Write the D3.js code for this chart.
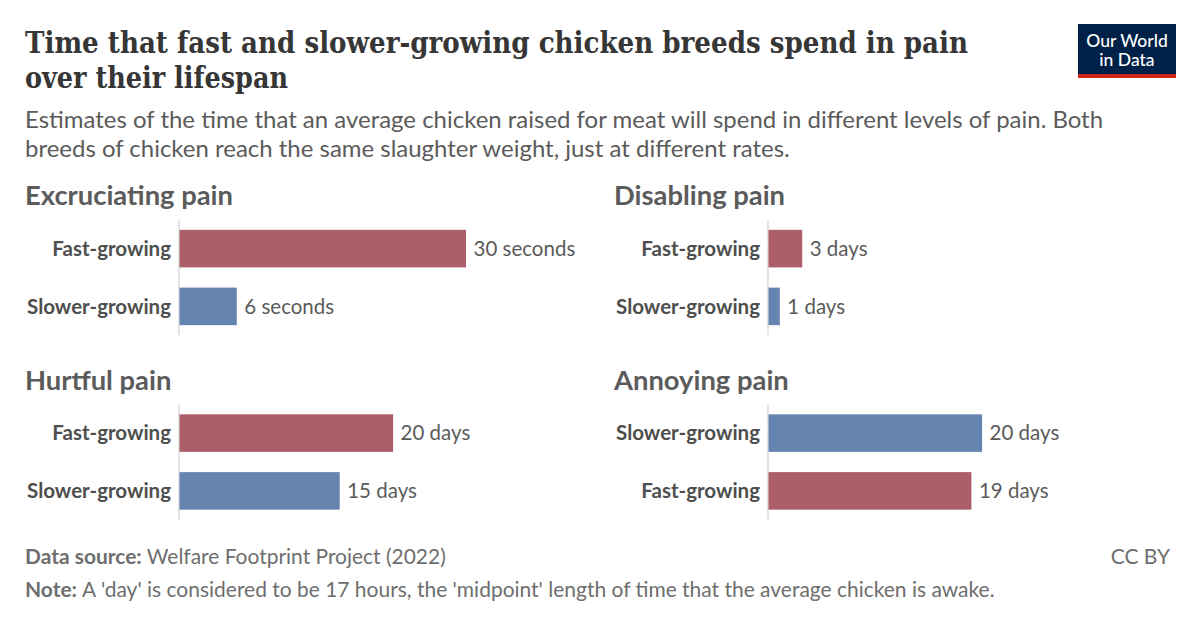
<!DOCTYPE html>
<html><head><meta charset="utf-8">
<script src="https://cdn.jsdelivr.net/npm/d3@7"></script>
<style>
body{margin:0;background:#fff;}
svg{display:block;}
</style></head>
<body>
<svg id="chart" width="1200" height="627"></svg>
<script>
// ---- Data ----
const panelTitles = ["Excruciating pain", "Disabling pain", "Hurtful pain", "Annoying pain"];
const panelUnits = ["seconds", "days", "days", "days"];
const breeds = ["Fast-growing", "Slower-growing"];
const fastValues = [30, 3.16, 20, 19];
const slowerValues = [6, 1.06, 15, 20];
const unitMax = { seconds: 30, days: 20 };

const W = 1200, H = 627;
const svg = d3.select("#chart");
const FONT = "Lato, 'Noto Sans', sans-serif";
const colors = { "Fast-growing": "#ac5f69", "Slower-growing": "#6585b0" };

// Fit a text element to a target width by adjusting font size
function fitWidth(sel, target) {
  const node = sel.node();
  const w = node.getComputedTextLength();
  const fs = parseFloat(sel.attr("font-size"));
  if (w > 0) sel.attr("font-size", fs * target / w);
  return parseFloat(sel.attr("font-size"));
}

// Title
const titleLines = ["Time that fast and slower-growing chicken breeds spend in pain", "over their lifespan"];
const titleWidths = [943, 263];
titleLines.forEach((t, i) => {
  svg.append("text").attr("x", 25).attr("y", 53 + i * 35)
    .attr("font-family", "'DejaVu Serif', 'Liberation Serif', serif").attr("font-weight", 700)
    .attr("font-size", 29.5).attr("fill", "#363636")
    .attr("textLength", titleWidths[i]).attr("lengthAdjust", "spacingAndGlyphs")
    .text(t);
});

// Subtitle
const subLines = ["Estimates of the time that an average chicken raised for meat will spend in different levels of pain. Both",
  "breeds of chicken reach the same slaughter weight, just at different rates."];
let subSize = 20;
subLines.forEach((t, i) => {
  const s = svg.append("text").attr("x", 25).attr("y", 128 + i * 29)
    .attr("font-family", FONT).attr("font-size", subSize).attr("fill", "#5b5b5b").text(t);
  if (i === 0) subSize = fitWidth(s, 1079);
});

// Logo
const logo = svg.append("g");
logo.append("rect").attr("x", 1078).attr("y", 24).attr("width", 98).attr("height", 50).attr("fill", "#002147");
logo.append("rect").attr("x", 1078).attr("y", 74).attr("width", 98).attr("height", 4).attr("fill", "#ce261e");
["Our World", "in Data"].forEach((t, i) => {
  logo.append("text").attr("x", 1127).attr("y", 47 + i * 19).attr("text-anchor", "middle")
    .attr("font-family", FONT).attr("font-weight", 500).attr("font-size", 17.5).attr("fill", "#fff").text(t);
});

// Scales per unit
const xScales = {
  seconds: d3.scaleLinear().domain([0, unitMax.seconds]).range([0, 286.5]),
  days: d3.scaleLinear().domain([0, unitMax.days]).range([0, 213.6])
};

const colX = [179, 768];
const rowY = [0, 184.5];
let panelTitleSize = 26;

panelTitles.forEach((title, p) => {
  const col = p % 2, row = Math.floor(p / 2);
  const ax = colX[col], oy = rowY[row];
  const unit = panelUnits[p];
  const x = xScales[unit];
  const rows = breeds.map(b => ({ breed: b, value: b === "Fast-growing" ? fastValues[p] : slowerValues[p] }))
    .sort((a, b) => b.value - a.value);
  const y = d3.scaleBand().domain(rows.map(d => d.breed)).range([220 + oy, 335 + oy])
    .paddingInner(0.35).paddingOuter(0.17);
  const g = svg.append("g");
  const pt = g.append("text").attr("x", col === 0 ? 25 : 614).attr("y", 205 + oy)
    .attr("font-family", FONT).attr("font-weight", 700).attr("font-size", panelTitleSize).attr("fill", "#5b5b5b").text(title);
  if (p === 0) panelTitleSize = fitWidth(pt, 208);
  g.append("line").attr("x1", ax).attr("x2", ax).attr("y1", 220 + oy).attr("y2", 335 + oy)
    .attr("stroke", "#c8c8c8").attr("stroke-width", 1);
  g.selectAll("rect.bar").data(rows).join("rect").attr("class", "bar")
    .attr("x", ax + 0.5).attr("y", d => y(d.breed)).attr("width", d => x(d.value))
    .attr("height", y.bandwidth()).attr("fill", d => colors[d.breed]);
  g.selectAll("text.cat").data(rows).join("text").attr("class", "cat")
    .attr("x", ax - 8).attr("y", d => y(d.breed) + y.bandwidth() / 2).attr("dy", "0.35em")
    .attr("text-anchor", "end").attr("font-family", FONT).attr("font-weight", 700).attr("font-size", 20.5)
    .attr("fill", "#4e4e4e").text(d => d.breed);
  g.selectAll("text.val").data(rows).join("text").attr("class", "val")
    .attr("x", d => ax + x(d.value) + 8).attr("y", d => y(d.breed) + y.bandwidth() / 2).attr("dy", "0.35em")
    .attr("font-family", FONT).attr("font-size", 20.5).attr("fill", "#5b5b5b")
    .text(d => Math.round(d.value) + " " + unit);
});

// Footer
const f1 = svg.append("text").attr("x", 25).attr("y", 564).attr("font-family", FONT).attr("font-size", 17).attr("fill", "#6e6e6e");
f1.append("tspan").attr("font-weight", 700).text("Data source: ");
f1.append("tspan").text("Welfare Footprint Project (2022)");
fitWidth(f1, 421);
svg.append("text").attr("x", 1170).attr("y", 564).attr("text-anchor", "end").attr("font-family", FONT)
  .attr("font-size", f1.attr("font-size")).attr("fill", "#6e6e6e").text("CC BY");
const f2 = svg.append("text").attr("x", 25).attr("y", 597).attr("font-family", FONT).attr("font-size", 17).attr("fill", "#6e6e6e");
f2.append("tspan").attr("font-weight", 700).text("Note: ");
f2.append("tspan").text("A 'day' is considered to be 17 hours, the 'midpoint' length of time that the average chicken is awake.");
fitWidth(f2, 970);
</script>
</body></html>
